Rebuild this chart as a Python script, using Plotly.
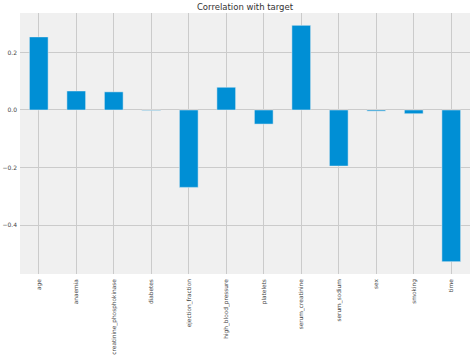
import plotly.graph_objects as go

features = ["age", "anaemia", "creatinine_phosphokinase", "diabetes", "ejection_fraction",
            "high_blood_pressure", "platelets", "serum_creatinine", "serum_sodium",
            "sex", "smoking", "time"]
correlation = [0.254, 0.066, 0.063, -0.002, -0.269, 0.079, -0.049, 0.294, -0.195,
               -0.004, -0.013, -0.527]
y_ticks = [-0.4, -0.2, 0.0, 0.2]

fig = go.Figure(go.Bar(
    x=features, y=correlation, width=0.5,
    marker=dict(color="#008fd5", line=dict(color="#f0f0f0", width=0.5)),
))
fig.update_layout(
    width=474, height=358,
    margin=dict(l=20, r=4, t=13, b=84),
    paper_bgcolor="white", plot_bgcolor="#f0f0f0",
    title=dict(text="Correlation with target", xref="paper", x=0.5, xanchor="center",
               y=0.99, yanchor="top",
               font=dict(family="DejaVu Sans", size=8.5, color="#333")),
    showlegend=False,
    font=dict(family="DejaVu Sans", size=6, color="#444"),
)
fig.update_xaxes(range=[-0.5, 11.5], tickangle=-90, showgrid=True, gridcolor="#cbcbcb",
                 gridwidth=1, ticks="", showline=False, zeroline=False, automargin=False,
                 ticklabelstandoff=3,
                 tickfont=dict(size=5.8, color="#444"))
fig.update_yaxes(range=[-0.570, 0.337], tickvals=y_ticks, tickformat=".1f",
                 showgrid=True, gridcolor="#cbcbcb", gridwidth=1, zeroline=False,
                 ticks="", showline=False, automargin=False, ticklabelstandoff=2,
                 tickfont=dict(size=6, color="#444"))
fig.write_html("out.html", config={"displayModeBar": False},
               post_script="document.body.style.margin='0px';")
